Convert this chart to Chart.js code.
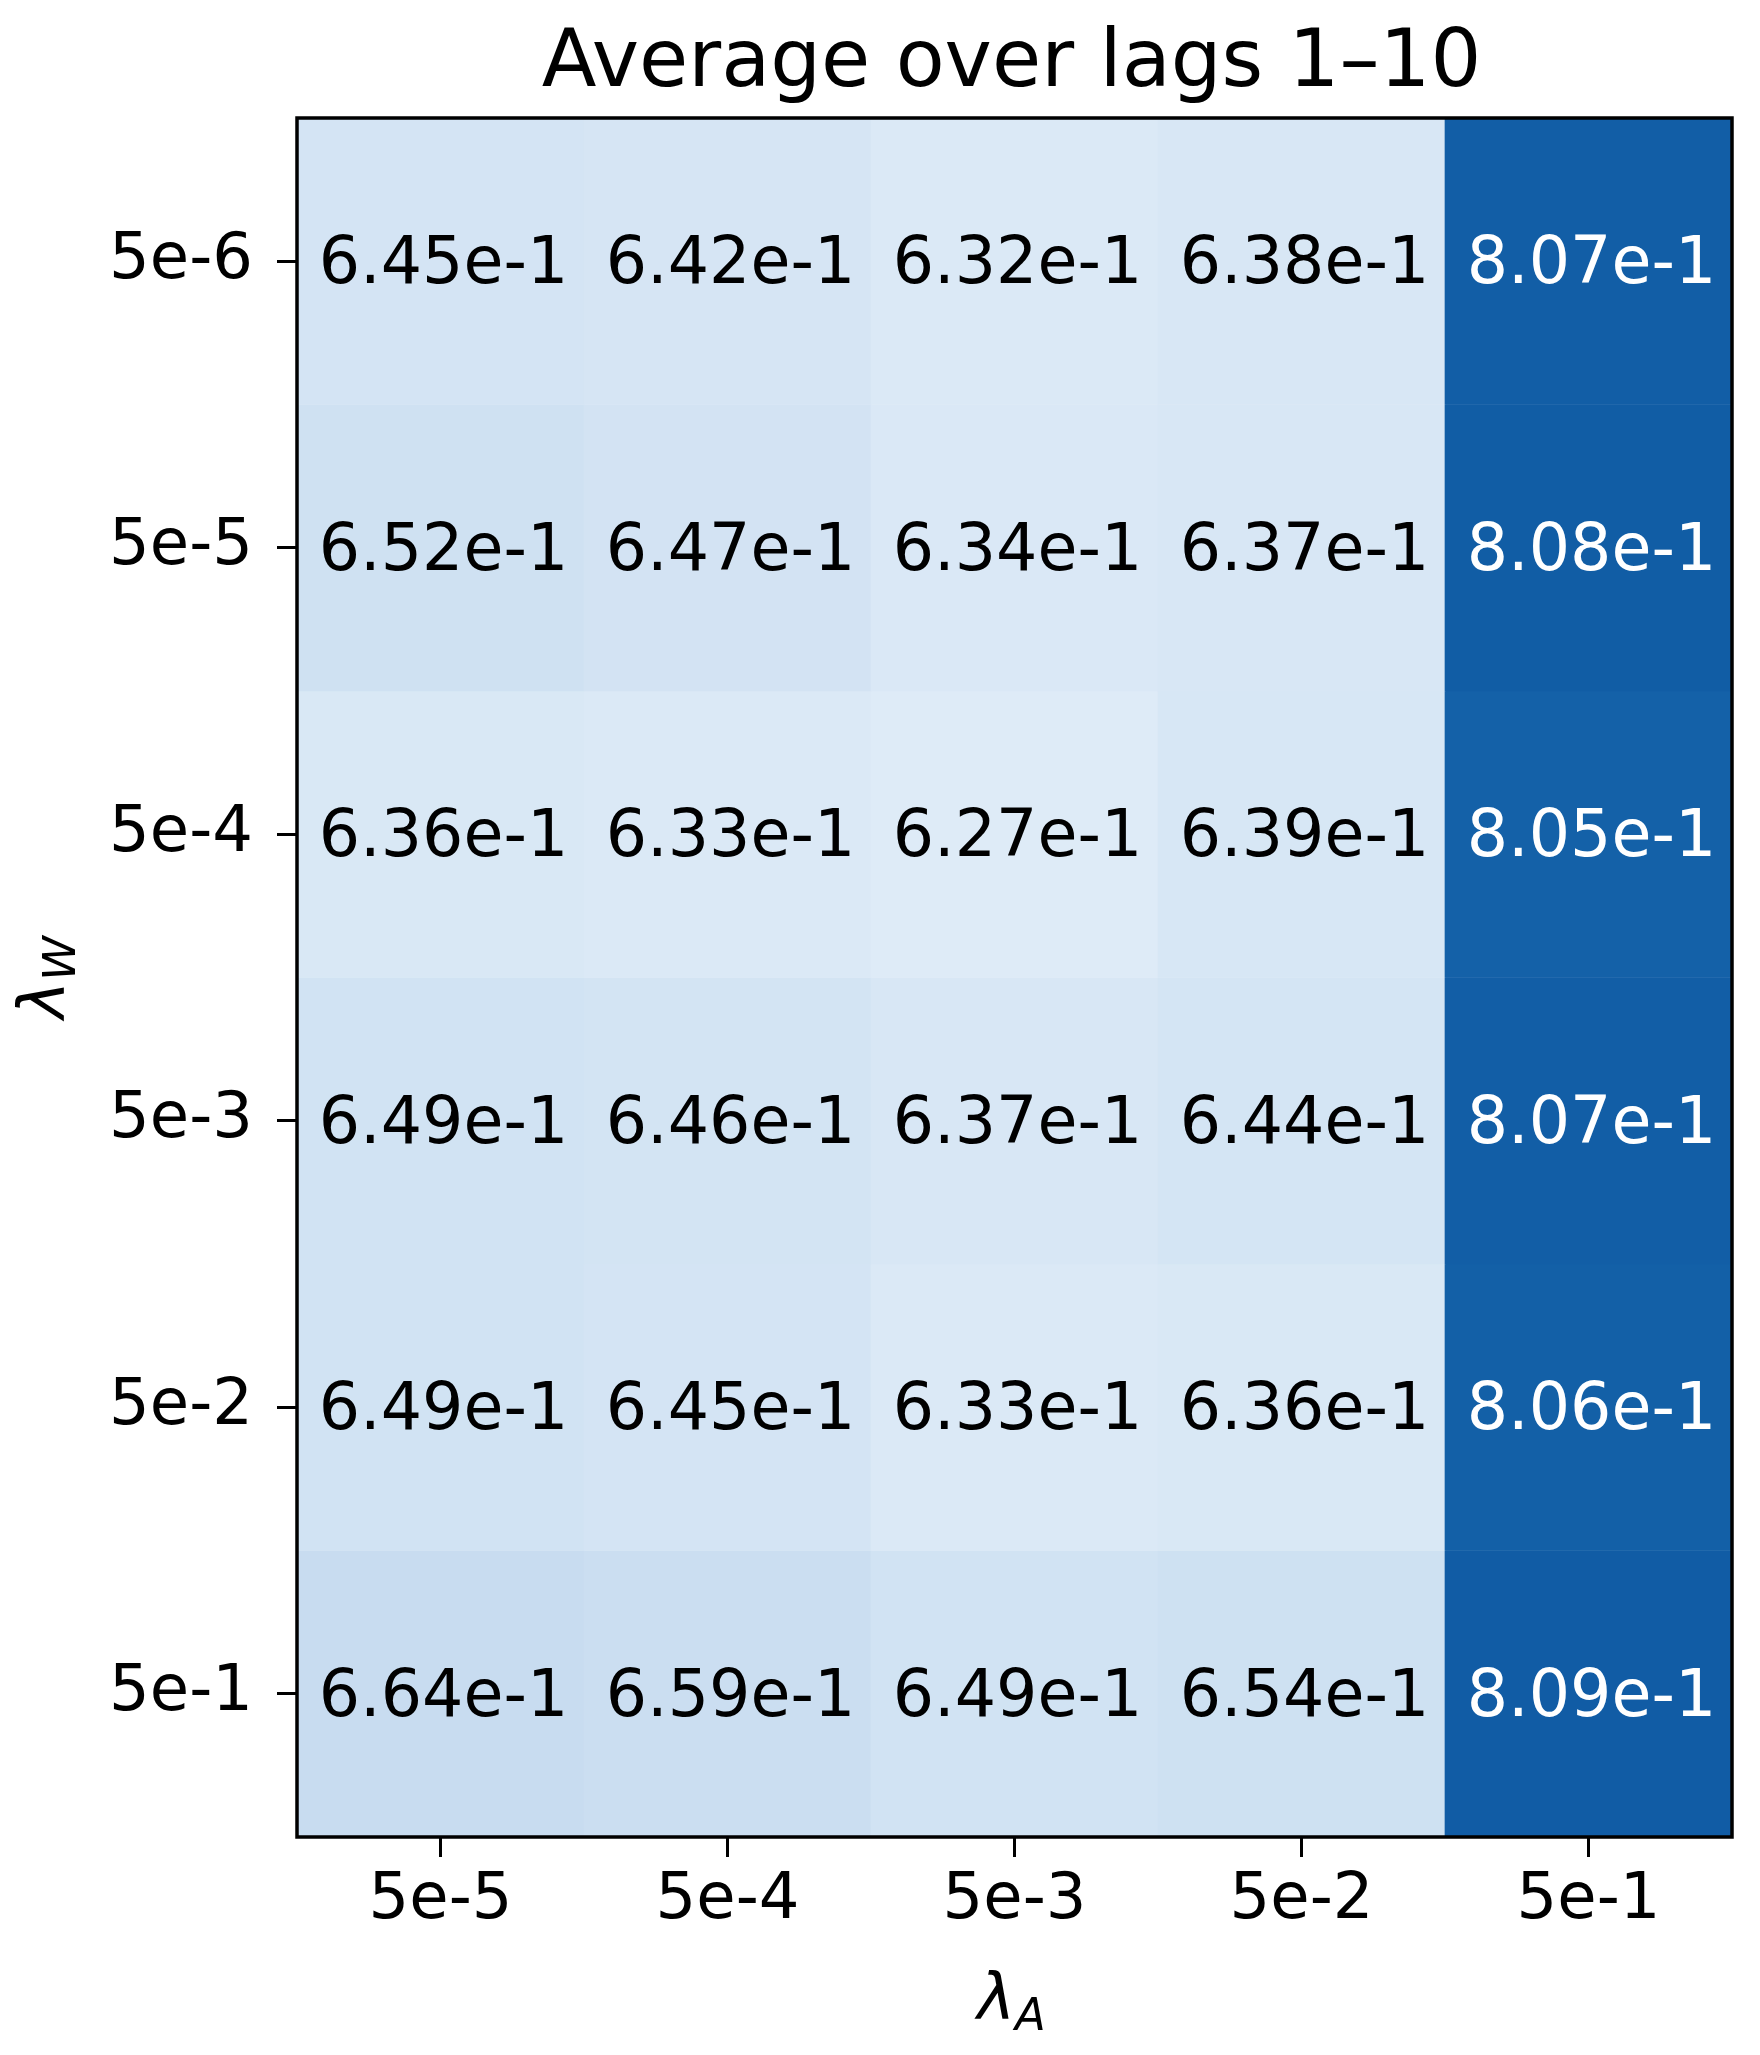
<!DOCTYPE html>
<html>
<head>
<meta charset="utf-8">
<script src="https://cdn.jsdelivr.net/npm/chart.js@4.4.1/dist/chart.umd.min.js"></script>
<style>
  body { margin: 0; background: #fff; }
  #wrap { width: 1760px; height: 2055px; }
</style>
</head>
<body>
<div id="wrap"><canvas id="heat" width="1760" height="2055"></canvas></div>
<script>
// tick labels
const lambdaW = ['5e-6', '5e-5', '5e-4', '5e-3', '5e-2', '5e-1'];
const lambdaA = ['5e-5', '5e-4', '5e-3', '5e-2', '5e-1'];

// averaged values, one array per lambda_W row
const row5e6 = [0.645, 0.642, 0.632, 0.638, 0.807];
const row5e5 = [0.652, 0.647, 0.634, 0.637, 0.808];
const row5e4 = [0.636, 0.633, 0.627, 0.639, 0.805];
const row5e3 = [0.649, 0.646, 0.637, 0.644, 0.807];
const row5e2 = [0.649, 0.645, 0.633, 0.636, 0.806];
const row5e1 = [0.664, 0.659, 0.649, 0.654, 0.809];
const rows = [row5e6, row5e5, row5e4, row5e3, row5e2, row5e1];

// matplotlib "Blues"
const blues = ['#f7fbff', '#deebf7', '#c6dbef', '#9ecae1', '#6baed6', '#4292c6', '#2171b5', '#08519c', '#08306b'];

function hexToRgb(h) {
    return [1, 3, 5].map(i => parseInt(h.substr(i, 2), 16));
}

function norm(v) {
    const t = Math.pow(Math.max(v - 0.567, 0) / 0.277, 1.36);
    return Math.min(1, t);
}

function bluesColor(v) {
    const t = norm(v) * (blues.length - 1);
    const i = Math.min(Math.floor(t), blues.length - 2);
    const f = t - i;
    const a = hexToRgb(blues[i]), b = hexToRgb(blues[i + 1]);
    const c = a.map((x, k) => Math.round(x + (b[k] - x) * f));
    return `rgb(${c[0]},${c[1]},${c[2]})`;
}

const FONT = 'DejaVu Sans';

// one floating-bar dataset per row, each bar spans [row, row+1]
const datasets = rows.map((vals, i) => ({
    label: lambdaW[i],
    data: vals.map(() => [i, i + 1]),
    values: vals,
    backgroundColor: vals.map(bluesColor),
    borderWidth: 0,
    grouped: false,
    barPercentage: 1,
    categoryPercentage: 1
}));

const decorations = {
    id: 'decorations',
    afterDatasetsDraw(chart) {
        const ctx = chart.ctx;
        ctx.save();
        ctx.font = `65px "${FONT}"`;
        ctx.textAlign = 'center';
        ctx.textBaseline = 'middle';
        chart.data.datasets.forEach((ds, i) => {
            const meta = chart.getDatasetMeta(i);
            meta.data.forEach((el, j) => {
                const v = ds.values[j];
                ctx.fillStyle = norm(v) > 0.6 ? '#fff' : '#000';
                ctx.fillText(v.toExponential(2), el.x + 3, (el.y + el.base) / 2 + 5);
            });
        });
        ctx.restore();
    },
    afterDraw(chart) {
        const ctx = chart.ctx;
        const a = chart.chartArea;
        ctx.save();
        // frame
        ctx.strokeStyle = '#000';
        ctx.lineWidth = 3.5;
        ctx.strokeRect(a.left, a.top, a.right - a.left, a.bottom - a.top);

        const cx = (a.left + a.right) / 2;
        // title
        ctx.fillStyle = '#000';
        ctx.font = `80px "${FONT}"`;
        ctx.textAlign = 'center';
        ctx.textBaseline = 'alphabetic';
        ctx.fillText('Average over lags 1\u201310', cx - 3, 86);

        // x title: lambda_A
        drawSub(ctx, 'A', cx - 3, 2019);

        // y title: lambda_W, rotated
        ctx.translate(64, (a.top + a.bottom) / 2);
        ctx.rotate(-Math.PI / 2);
        drawSub(ctx, 'W', 0, 0);
        ctx.restore();
    }
};

function drawSub(ctx, sub, cx, baseY) {
    ctx.font = `italic 64px "${FONT}"`;
    const w1 = ctx.measureText('\u03bb').width;
    ctx.font = `italic 45px "${FONT}"`;
    const w2 = ctx.measureText(sub).width;
    const x0 = cx - (w1 + w2) / 2;
    ctx.textAlign = 'left';
    ctx.textBaseline = 'alphabetic';
    ctx.font = `italic 64px "${FONT}"`;
    ctx.fillText('\u03bb', x0, baseY);
    ctx.font = `italic 45px "${FONT}"`;
    ctx.fillText(sub, x0 + w1, baseY + 11);
}

new Chart(document.getElementById('heat').getContext('2d'), {
    type: 'bar',
    data: { labels: lambdaA, datasets: datasets },
    plugins: [decorations],
    options: {
        responsive: false,
        animation: false,
        devicePixelRatio: 1,
        layout: { padding: { top: 118, right: 28, left: 0, bottom: 0 } },
        plugins: {
            legend: { display: false },
            title: { display: false },
            tooltip: { enabled: false }
        },
        scales: {
            x: {
                type: 'category',
                offset: true,
                grid: { offset: false, drawOnChartArea: false, tickLength: 20, tickWidth: 3, tickColor: '#000' },
                border: { display: false },
                ticks: { color: '#000', font: { family: FONT, size: 64 }, padding: 6, maxRotation: 0, autoSkip: false },
                afterFit: s => { s.height = 2055 - 1837; }
            },
            y: {
                type: 'linear',
                min: 0,
                max: lambdaW.length,
                reverse: true,
                afterBuildTicks: s => { s.ticks = lambdaW.map((_, i) => ({ value: i + 0.5 })); },
                grid: { drawOnChartArea: false, tickLength: 20, tickWidth: 3, tickColor: '#000' },
                border: { display: false },
                ticks: {
                    color: '#000',
                    font: { family: FONT, size: 64 },
                    padding: 24,
                    autoSkip: false,
                    callback: v => lambdaW[Math.floor(v)]
                },
                afterFit: s => { s.width = 297; }
            }
        }
    }
});
</script>
</body>
</html>
